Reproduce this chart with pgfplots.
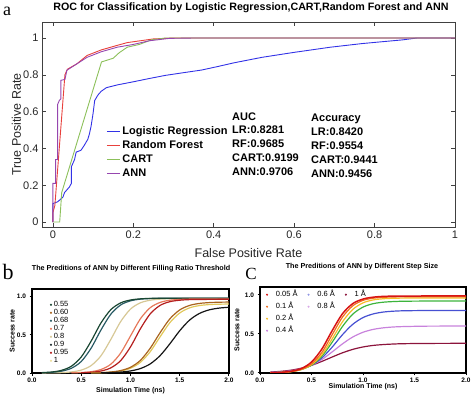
\documentclass[border=0pt]{standalone}
\usepackage{pgfplots}
\pgfplotsset{compat=1.18}
\usepackage{fontspec}
\setmainfont{Liberation Sans}
\newfontfamily\serifletter{Liberation Serif}
\definecolor{lrblue}{RGB}{50,50,230}
\definecolor{rfred}{RGB}{232,65,60}
\definecolor{cartgreen}{RGB}{140,192,90}
\definecolor{annpurple}{RGB}{150,70,175}
% panel b
\definecolor{bA}{RGB}{25,70,50}
\definecolor{bB}{RGB}{170,100,30}
\definecolor{bC}{RGB}{40,90,100}
\definecolor{bD}{RGB}{230,120,90}
\definecolor{bE}{RGB}{215,200,150}
\definecolor{bF}{RGB}{20,20,20}
\definecolor{bG}{RGB}{180,30,30}
\definecolor{bH}{RGB}{225,200,90}
% panel c
\definecolor{cA}{RGB}{215,20,20}
\definecolor{cB}{RGB}{240,110,30}
\definecolor{cC}{RGB}{245,190,40}
\definecolor{cD}{RGB}{60,180,60}
\definecolor{cE}{RGB}{70,80,210}
\definecolor{cF}{RGB}{200,130,220}
\definecolor{cG}{RGB}{140,20,60}
\begin{document}
\begin{tikzpicture}
\path[use as bounding box] (0,0) rectangle (474pt,-395pt);
\node[font=\serifletter\fontsize{18}{18}\selectfont, inner sep=0pt, anchor=base] at (7pt,-16pt) {a};
\node[font=\serifletter\fontsize{22}{22}\selectfont] at (8pt,-272pt) {b};
\node[font=\serifletter\fontsize{17}{17}\selectfont] at (251pt,-274pt) {C};

% ---------------- panel a ----------------
\begin{axis}[
 at={(42pt,-227pt)}, anchor=south west,
 width=413pt, height=205pt, scale only axis,
 xmin=-0.027, xmax=1, ymin=-0.027, ymax=1.087,
 xtick={0,0.2,0.4,0.6,0.8,1}, xticklabels={0,0.2,0.4,0.6,0.8,1},
 ytick={0,0.2,0.4,0.6,0.8,1}, yticklabels={0,0.2,0.4,0.6,0.8,1},
 tick align=inside, major tick length=4pt,
 axis line style={draw=black!75, line width=0.7pt},
 tick style={black!75, line width=0.6pt},
 tick label style={font=\fontsize{11}{13}\selectfont, text=black!85},
 xlabel={False Positive Rate}, ylabel={True Positive Rate},
 label style={font=\fontsize{12.5}{14}\selectfont, text=black!85},
 xlabel style={at={(axis description cs:0.5,-0.127)}, anchor=center},
 ylabel style={at={(axis description cs:-0.062,0.5)}, anchor=center},
 title={ROC for Classification by Logistic Regression,CART,Random Forest and ANN},
 title style={font=\bfseries\fontsize{10.7}{12}\selectfont, at={(axis description cs:0.506,1.039)}, anchor=center},
 legend style={at={(0.148,0.5)}, anchor=north west, draw=none, fill=none,
   font=\bfseries\fontsize{11}{13}\selectfont, row sep=3.5pt,
   nodes={inner xsep=2pt, inner ysep=0pt, text height=8pt, text depth=2.5pt}},
 legend cell align=left,
 legend image code/.code={\draw[#1, line width=1.1pt] (0pt,0pt) -- (13pt,0pt);},
]
\addplot[lrblue, line width=0.9pt] coordinates {
(0,0) (0,0.10) (0.012,0.11) (0.025,0.135) (0.029,0.16) (0.041,0.19) (0.046,0.21)
(0.046,0.30) (0.054,0.34) (0.058,0.38) (0.07,0.39) (0.079,0.42) (0.087,0.45)
(0.091,0.48) (0.095,0.52) (0.10,0.59) (0.104,0.66) (0.112,0.69) (0.12,0.71)
(0.133,0.73) (0.16,0.745) (0.2,0.762) (0.24,0.78) (0.28,0.797) (0.32,0.81)
(0.37,0.826) (0.41,0.845) (0.45,0.865) (0.52,0.895) (0.6,0.922) (0.69,0.95)
(0.77,0.97) (0.87,0.99) (0.905,1) (1,1)};
\addlegendentry{Logistic Regression}
\addplot[rfred, line width=0.9pt] coordinates {
(0,0) (0,0.05) (0.005,0.09) (0.03,0.80) (0.036,0.83) (0.06,0.86) (0.085,0.905)
(0.12,0.935) (0.16,0.96) (0.185,0.975) (0.25,0.995) (0.3,1) (1,1)};
\addlegendentry{Random Forest}
\addplot[cartgreen, line width=0.9pt] coordinates {
(0,0) (0.017,0) (0.022,0.16) (0.121,0.87) (0.15,0.89) (0.165,0.92) (0.185,0.95)
(0.215,0.965) (0.245,0.99) (0.28,1) (1,1)};
\addlegendentry{CART}
\addplot[annpurple, line width=0.9pt] coordinates {
(0,0) (0,0.21) (0.007,0.21) (0.007,0.34) (0.012,0.34) (0.012,0.64) (0.016,0.66)
(0.02,0.67) (0.02,0.77) (0.03,0.775) (0.035,0.825) (0.06,0.86) (0.085,0.895)
(0.12,0.925) (0.16,0.95) (0.2,0.965) (0.24,0.985) (0.29,0.998) (0.35,1) (1,1)};
\addlegendentry{ANN}
\end{axis}

\begin{scope}[font=\bfseries\fontsize{11}{13}\selectfont]
\node[anchor=base west, inner sep=0pt] at (232pt,-121pt) {AUC};
\node[anchor=base west, inner sep=0pt] at (232pt,-134pt) {LR:0.8281};
\node[anchor=base west, inner sep=0pt] at (232pt,-148pt) {RF:0.9685};
\node[anchor=base west, inner sep=0pt] at (232pt,-162pt) {CART:0.9199};
\node[anchor=base west, inner sep=0pt] at (232pt,-176pt) {ANN:0.9706};
\node[anchor=base west, inner sep=0pt] at (311pt,-122pt) {Accuracy};
\node[anchor=base west, inner sep=0pt] at (311pt,-136pt) {LR:0.8420};
\node[anchor=base west, inner sep=0pt] at (311pt,-150pt) {RF:0.9554};
\node[anchor=base west, inner sep=0pt] at (311pt,-164pt) {CART:0.9441};
\node[anchor=base west, inner sep=0pt] at (311pt,-178pt) {ANN:0.9456};
\end{scope}

% ---------------- panel b ----------------
\begin{axis}[
 at={(32pt,-373pt)}, anchor=south west,
 width=197pt, height=84pt, scale only axis,
 xmin=0, xmax=2, ymin=0, ymax=1.1,
 xtick={0,0.5,1,1.5,2}, xticklabels={0.0,0.5,1.0,1.5,2.0},
 ytick={0,0.5,1}, yticklabels={0.0,0.5,1.0},
 xtick pos=bottom, ytick pos=left,
 tick align=outside, major tick length=2.5pt,
 axis line style={line width=1.2pt},
 tick style={black, line width=1pt},
 tick label style={font=\bfseries\fontsize{6.5}{7}\selectfont},
 xticklabel style={yshift=1pt},
 xlabel={Simulation Time (ns)}, ylabel={Success rate},
 label style={font=\bfseries\fontsize{7}{8}\selectfont},
 xlabel style={at={(axis description cs:0.5,-0.214)}, anchor=center},
 ylabel style={at={(axis description cs:-0.10,0.5)}, anchor=center},
 title={The Preditions of ANN by Different Filling Ratio Threshold},
 title style={font=\bfseries\fontsize{7.2}{8}\selectfont, at={(axis description cs:0.503,1.167)}, anchor=center},
 legend style={at={(0.076,0.88)}, anchor=north west, draw=none, fill=none,
   font=\fontsize{7.5}{8}\selectfont, row sep=1pt,
   nodes={inner xsep=2pt, inner ysep=0pt, text height=5.5pt, text depth=1.5pt}},
 legend cell align=left,
 legend image code/.code={\draw[#1, mark size=0.8pt] plot coordinates {(3pt,0pt)};},
]
\addplot[forget plot, bE, line width=1.2pt, smooth] coordinates {
(0.1,0.001) (0.2,0.002) (0.3,0.005) (0.4,0.014) (0.5,0.038) (0.6,0.097) (0.7,0.225)
(0.8,0.439) (0.9,0.673) (1,0.837) (1.1,0.919) (1.2,0.953) (1.3,0.967) (1.4,0.972)
(1.5,0.974) (1.6,0.975) (1.8,0.975) (2,0.975)};
\addplot[forget plot, bC, line width=1.2pt, smooth] coordinates {
(0.1,0.003) (0.2,0.009) (0.3,0.024) (0.4,0.062) (0.5,0.151) (0.6,0.325) (0.7,0.563)
(0.8,0.77) (0.9,0.891) (1,0.945) (1.1,0.967) (1.2,0.975) (1.3,0.978) (1.4,0.979)
(1.6,0.98) (1.8,0.98) (2,0.98)};
\addplot[forget plot, bA, line width=1.2pt, smooth] coordinates {
(0.1,0.005) (0.2,0.013) (0.3,0.035) (0.4,0.089) (0.5,0.21) (0.6,0.417) (0.7,0.655)
(0.8,0.829) (0.9,0.918) (1,0.956) (1.1,0.971) (1.2,0.977) (1.3,0.979) (1.4,0.98)
(1.6,0.98) (1.8,0.98) (2,0.98)};
\addplot[forget plot, bD, line width=1.2pt, smooth] coordinates {
(0.4,0.002) (0.5,0.0065) (0.6,0.017) (0.7,0.046) (0.8,0.115) (0.9,0.261) (1,0.485)
(1.1,0.709) (1.2,0.855) (1.3,0.924) (1.4,0.953) (1.5,0.963) (1.6,0.968) (1.7,0.969)
(1.8,0.97) (2,0.97)};
\addplot[forget plot, bG, line width=1.2pt, smooth] coordinates {
(0.5,0.0036) (0.6,0.0096) (0.7,0.026) (0.8,0.067) (0.9,0.162) (1,0.342) (1.1,0.578)
(1.2,0.774) (1.3,0.885) (1.4,0.934) (1.5,0.953) (1.6,0.961) (1.7,0.963) (1.8,0.964)
(2,0.965)};
\addplot[forget plot, bH, line width=1.2pt, smooth] coordinates {
(0.6,0.002) (0.7,0.004) (0.8,0.011) (0.9,0.026) (1,0.062) (1.1,0.139) (1.2,0.279)
(1.3,0.473) (1.4,0.66) (1.5,0.786) (1.6,0.853) (1.7,0.883) (1.8,0.896) (1.9,0.901)
(2,0.903)};
\addplot[forget plot, bB, line width=1.2pt, smooth] coordinates {
(0.6,0.002) (0.7,0.005) (0.8,0.013) (0.9,0.032) (1,0.075) (1.1,0.165) (1.2,0.324)
(1.3,0.527) (1.4,0.71) (1.5,0.826) (1.6,0.885) (1.7,0.911) (1.8,0.922) (1.9,0.927)
(2,0.929)};
\addplot[forget plot, bF, line width=1.2pt, smooth] coordinates {
(0.7,0.003) (0.8,0.006) (0.9,0.012) (1,0.027) (1.1,0.058) (1.2,0.119) (1.3,0.227)
(1.4,0.383) (1.5,0.554) (1.6,0.693) (1.7,0.78) (1.8,0.827) (1.9,0.85) (2,0.861)};
\addlegendimage{bA, mark=*}\addlegendentry{0.55}
\addlegendimage{bB, mark=*}\addlegendentry{0.60}
\addlegendimage{bC, mark=*}\addlegendentry{0.68}
\addlegendimage{bD, mark=*}\addlegendentry{0.7}
\addlegendimage{bE, mark=*}\addlegendentry{0.8}
\addlegendimage{bF!70!bC, mark=*}\addlegendentry{0.9}
\addlegendimage{bG, mark=*}\addlegendentry{0.95}
\addlegendimage{bH!60!white, mark=*}\addlegendentry{1}
\end{axis}

% ---------------- panel c ----------------
\begin{axis}[
 at={(260pt,-373pt)}, anchor=south west,
 width=206pt, height=86pt, scale only axis,
 xmin=0, xmax=2, ymin=0, ymax=1.1,
 xtick={0,0.5,1,1.5,2}, xticklabels={0.0,0.5,1.0,1.5,2.0},
 ytick={0,0.5,1}, yticklabels={0.0,0.5,1.0},
 xtick pos=bottom, ytick pos=left,
 tick align=outside, major tick length=2.5pt,
 axis line style={line width=1.2pt},
 tick style={black, line width=1pt},
 tick label style={font=\bfseries\fontsize{6.5}{7}\selectfont},
 xticklabel style={yshift=1pt},
 xlabel={Simulation Time (ns)}, ylabel={Success rate},
 label style={font=\bfseries\fontsize{7}{8}\selectfont},
 xlabel style={at={(axis description cs:0.5,-0.163)}, anchor=center},
 ylabel style={at={(axis description cs:-0.112,0.5)}, anchor=center},
 title={The Preditions of ANN by Different Step Size},
 title style={font=\bfseries\fontsize{7.2}{8}\selectfont, at={(axis description cs:0.495,1.163)}, anchor=center},
 legend style={at={(0.015,0.977)}, anchor=north west, draw=none, fill=none,
   font=\fontsize{7.5}{8}\selectfont, row sep=5pt, column sep=6pt,
   nodes={inner xsep=2pt, inner ysep=0pt, text height=5.5pt, text depth=1.5pt}},
 legend columns=3,
 legend cell align=left,
 legend image code/.code={\draw[#1, mark size=0.8pt] plot coordinates {(3pt,0pt)};},
]
\addplot[forget plot, cG, line width=1.2pt, smooth] coordinates {
(0.1,0.012) (0.2,0.021) (0.3,0.036) (0.4,0.061) (0.5,0.098) (0.6,0.148) (0.7,0.204)
(0.8,0.258) (0.9,0.302) (1,0.333) (1.1,0.353) (1.2,0.364) (1.3,0.371) (1.4,0.375)
(1.6,0.378) (1.8,0.379) (2,0.38)};
\addplot[forget plot, cF, line width=1.2pt, smooth] coordinates {
(0.1,0.007) (0.2,0.014) (0.3,0.028) (0.4,0.054) (0.5,0.10) (0.6,0.172) (0.7,0.269)
(0.8,0.372) (0.9,0.46) (1,0.521) (1.1,0.558) (1.2,0.578) (1.3,0.589) (1.4,0.594)
(1.6,0.599) (1.8,0.60) (2,0.60)};
\addplot[forget plot, cE, line width=1.2pt, smooth] coordinates {
(0.1,0.005) (0.2,0.010) (0.3,0.022) (0.4,0.048) (0.5,0.10) (0.6,0.192) (0.7,0.33)
(0.8,0.489) (0.9,0.622) (1,0.709) (1.1,0.756) (1.2,0.78) (1.3,0.791) (1.4,0.796)
(1.6,0.799) (1.8,0.80) (2,0.80)};
\addplot[forget plot, cD, line width=1.2pt, smooth] coordinates {
(0.1,0.003) (0.2,0.0075) (0.3,0.018) (0.4,0.044) (0.5,0.10) (0.6,0.213) (0.7,0.392)
(0.8,0.594) (0.9,0.752) (1,0.843) (1.1,0.887) (1.2,0.906) (1.3,0.914) (1.4,0.918)
(1.6,0.92) (1.8,0.92) (2,0.92)};
\addplot[forget plot, cC, line width=1.2pt, smooth] coordinates {
(0.1,0.003) (0.2,0.007) (0.3,0.017) (0.4,0.044) (0.5,0.106) (0.6,0.232) (0.7,0.435)
(0.8,0.654) (0.9,0.813) (1,0.897) (1.1,0.935) (1.2,0.95) (1.3,0.956) (1.4,0.958)
(1.6,0.96) (1.8,0.96) (2,0.96)};
\addplot[forget plot, cB, line width=1.2pt, smooth] coordinates {
(0.1,0.002) (0.2,0.0065) (0.3,0.0175) (0.4,0.046) (0.5,0.116) (0.6,0.262) (0.7,0.4875)
(0.8,0.713) (0.9,0.859) (1,0.929) (1.1,0.957) (1.2,0.968) (1.3,0.973) (1.4,0.974)
(1.6,0.975) (1.8,0.975) (2,0.975)};
\addplot[forget plot, cA, line width=1.5pt, smooth] coordinates {
(0.1,0.003) (0.2,0.008) (0.3,0.022) (0.4,0.056) (0.5,0.14) (0.6,0.305) (0.7,0.54)
(0.8,0.757) (0.9,0.887) (1,0.946) (1.1,0.97) (1.2,0.98) (1.3,0.983) (1.4,0.984)
(1.6,0.985) (1.8,0.985) (2,0.985)};
\addlegendimage{cA, mark=*}\addlegendentry{0.05 Å}
\addlegendimage{cE!60!white, mark=*}\addlegendentry{0.6 Å}
\addlegendimage{cG, mark=*}\addlegendentry{1 Å}
\addlegendimage{cB, mark=*}\addlegendentry{0.1 Å}
\addlegendimage{cF!70!white, mark=*}\addlegendentry{0.8 Å}
\addlegendimage{empty legend}\addlegendentry{}
\addlegendimage{cC, mark=*}\addlegendentry{0.2 Å}
\addlegendimage{empty legend}\addlegendentry{}
\addlegendimage{empty legend}\addlegendentry{}
\addlegendimage{cF, mark=*}\addlegendentry{0.4 Å}
\end{axis}
\end{tikzpicture}
\end{document}
